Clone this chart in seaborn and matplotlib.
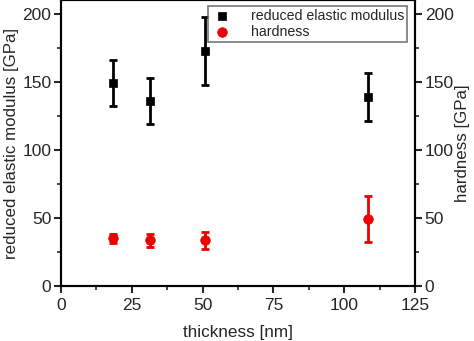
import matplotlib
matplotlib.use("Agg")
import matplotlib.pyplot as plt
import seaborn as sns
import pandas as pd
from matplotlib.ticker import MultipleLocator

thickness = [18.5, 31.5, 51.0, 108.5]
modulus = [149, 136, 173, 139]
modulus_err = [17, 17, 25, 17.5]
hardness = [35, 33.5, 33.5, 49.5]
hardness_err = [3.5, 5, 6, 17]

sns.set_style("ticks")
plt.rcParams['font.family'] = ['Liberation Sans', 'DejaVu Sans']

df = pd.DataFrame({"thickness": thickness, "modulus": modulus, "hardness": hardness})

fig = plt.figure(figsize=(4.74, 3.41), dpi=100)
ax = fig.add_axes([0.1287, 0.1613, 0.7468, 0.8377])

ax.errorbar(thickness, modulus, yerr=modulus_err, fmt='none', ecolor='black',
            elinewidth=2, capsize=3, capthick=2, zorder=2)
ax.errorbar(thickness, hardness, yerr=hardness_err, fmt='none', ecolor='#ee0000',
            elinewidth=2, capsize=3, capthick=2, zorder=2)
sns.scatterplot(data=df, x="thickness", y="modulus", marker='s', color='black', s=40,
                edgecolor='black', linewidth=0.5, ax=ax, zorder=3, label="reduced elastic modulus")
sns.scatterplot(data=df, x="thickness", y="hardness", marker='o', color='#ee0000', s=48,
                edgecolor='#ee0000', linewidth=0.5, ax=ax, zorder=3, label="hardness")

ax.set_xlim(0, 125)
ax.set_ylim(0, 210)
ax.xaxis.set_major_locator(MultipleLocator(25))
ax.xaxis.set_minor_locator(MultipleLocator(12.5))
ax.yaxis.set_major_locator(MultipleLocator(50))
ax.yaxis.set_minor_locator(MultipleLocator(25))
ax.tick_params(which='major', direction='out', length=5, width=1.5, labelsize=12.5, pad=2)
ax.tick_params(axis='x', which='major', pad=4)
ax.tick_params(which='minor', direction='out', length=3, width=1.2)
ax.tick_params(axis='x', which='both', top=True)
ax.set_xlabel("thickness [nm]", fontsize=12.3, labelpad=8)
ax.set_ylabel("reduced elastic modulus [GPa]", fontsize=12.2, labelpad=2)
for s in ax.spines.values():
    s.set_linewidth(1.5)
    s.set_color('black')

ax2 = ax.twinx()
ax2.set_ylim(0, 210)
ax2.yaxis.set_major_locator(MultipleLocator(50))
ax2.yaxis.set_minor_locator(MultipleLocator(25))
ax2.tick_params(which='major', direction='out', length=5, width=1.5, labelsize=12.5, pad=2)
ax2.tick_params(which='minor', direction='out', length=3, width=1.2)
ax2.set_ylabel("hardness [GPa]", fontsize=12.2, labelpad=1)
for s in ax2.spines.values():
    s.set_linewidth(1.5)
    s.set_color('black')

leg = ax.legend(loc='upper right', bbox_to_anchor=(0.985, 0.99), fontsize=10.2,
                frameon=True, fancybox=False, edgecolor='#555555', borderpad=0.2,
                labelspacing=0.15, handletextpad=1.2, borderaxespad=0.2, markerscale=1.0,
                handlelength=1.6)
leg.get_frame().set_linewidth(1.2)

fig.savefig("out.png", dpi=100)
